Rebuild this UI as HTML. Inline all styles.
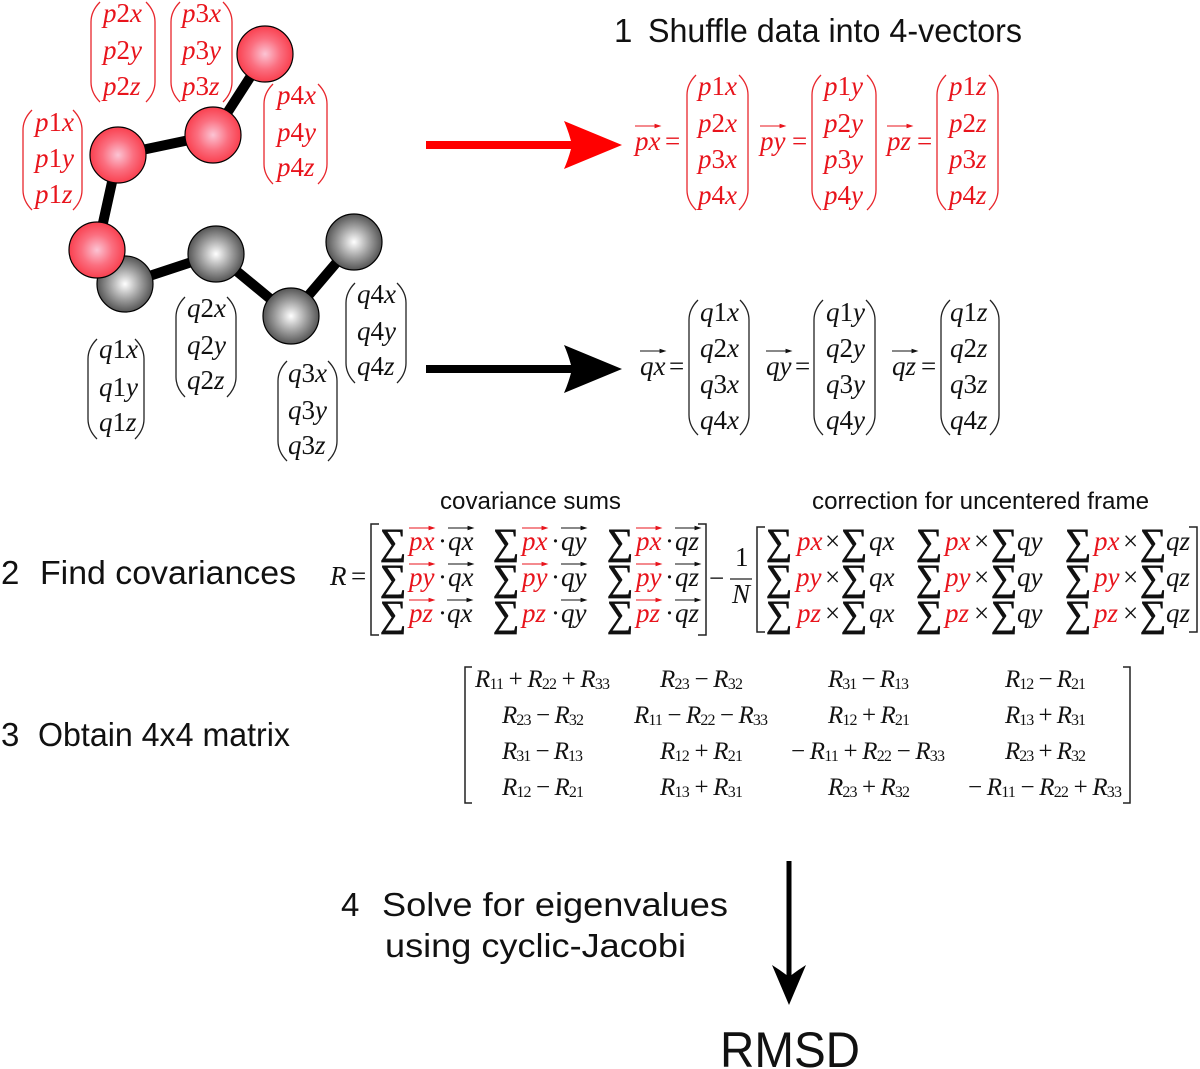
<!DOCTYPE html>
<html><head><meta charset="utf-8"><title>RMSD diagram</title>
<style>
html,body{margin:0;padding:0;background:#fff}
svg{display:block}
text{font-family:"Liberation Serif",serif;font-size:27px;font-style:italic;fill:#111}
.r text,text.r,tspan.r{fill:#e8141c}
.n{font-style:normal}
.sans{font-family:"Liberation Sans",sans-serif;font-style:normal;font-size:33px;fill:#111}
.small{font-size:24px}
.S{font-size:37px;font-style:normal;stroke:#111;stroke-width:.7px}
.o{font-style:normal}
.m text{font-size:25px}
.s{font-style:normal;font-size:16px;baseline-shift:-2px}
.par{fill:none;stroke-width:1.3}
</style></head><body>
<svg width="1200" height="1069" viewBox="0 0 1200 1069" xmlns="http://www.w3.org/2000/svg">
<defs>
<radialGradient id="gr" cx=".5" cy=".5" r=".5"><stop offset="0" stop-color="#fbc4d4"/><stop offset=".55" stop-color="#fb6f80"/><stop offset="1" stop-color="#f9404f"/></radialGradient>
<radialGradient id="gg" cx=".5" cy=".5" r=".5"><stop offset="0" stop-color="#fff"/><stop offset=".55" stop-color="#a0a0a0"/><stop offset="1" stop-color="#555"/></radialGradient>
<path id="lp" d="M9 0C3 6 0 12 0 20V80C0 88 3 94 9 100"/>
<path id="rp" d="M0 0C6 6 9 12 9 20V80C9 88 6 94 0 100"/>
<path id="lt" d="M9 0C3 6 0 12 0 20V115C0 123 3 129 9 135"/>
<path id="rt" d="M0 0C6 6 9 12 9 20V115C9 123 6 129 0 135"/>
<path id="a" d="M0 0H20V-1.600L25 0 20 1.600V0Z" stroke-width=".9"/>
</defs>

<!-- molecule bonds -->
<path d="M265 54L213 135L118 155L97 250M125 284L216 254L291 316L354 242" fill="none" stroke="#000" stroke-width="10"/>
<g stroke="#000" stroke-width="1.2">
<circle cx="354" cy="242" r="28" fill="url(#gg)"/>
<circle cx="291" cy="316" r="28" fill="url(#gg)"/>
<circle cx="216" cy="254" r="28" fill="url(#gg)"/>
<circle cx="125" cy="284" r="28" fill="url(#gg)"/>
<circle cx="97" cy="250" r="28" fill="url(#gr)"/>
<circle cx="118" cy="155" r="28" fill="url(#gr)"/>
<circle cx="213" cy="135" r="28" fill="url(#gr)"/>
<circle cx="265" cy="54" r="28" fill="url(#gr)"/>
</g>

<!-- molecule labels red -->
<g class="par" stroke="#e8262c">
<use href="#lp" x="91" y="2"/><use href="#rp" x="146" y="2"/>
<use href="#lp" x="171" y="2"/><use href="#rp" x="223" y="2"/>
<use href="#lp" x="264" y="84"/><use href="#rp" x="318" y="84"/>
<use href="#lp" x="23" y="110"/><use href="#rp" x="73" y="110"/>
</g>
<g class="par" stroke="#222">
<use href="#lp" x="88" y="339"/><use href="#rp" x="135" y="339"/>
<use href="#lp" x="176" y="297"/><use href="#rp" x="227" y="297"/>
<use href="#lp" x="278" y="361"/><use href="#rp" x="328" y="361"/>
<use href="#lp" x="346" y="283"/><use href="#rp" x="397" y="283"/>
</g>
<g class="r">
<text x="103" y="22">p<tspan class="n">2</tspan>x</text><text x="103" y="59">p<tspan class="n">2</tspan>y</text><text x="103" y="95">p<tspan class="n">2</tspan>z</text>
<text x="182" y="22">p<tspan class="n">3</tspan>x</text><text x="182" y="59">p<tspan class="n">3</tspan>y</text><text x="182" y="95">p<tspan class="n">3</tspan>z</text>
<text x="277" y="104">p<tspan class="n">4</tspan>x</text><text x="277" y="141">p<tspan class="n">4</tspan>y</text><text x="277" y="176">p<tspan class="n">4</tspan>z</text>
<text x="35" y="131">p<tspan class="n">1</tspan>x</text><text x="35" y="167">p<tspan class="n">1</tspan>y</text><text x="35" y="203">p<tspan class="n">1</tspan>z</text>
</g>
<g>
<text x="99" y="358">q<tspan class="n">1</tspan>x</text><text x="99" y="396">q<tspan class="n">1</tspan>y</text><text x="99" y="431">q<tspan class="n">1</tspan>z</text>
<text x="187" y="317">q<tspan class="n">2</tspan>x</text><text x="187" y="354">q<tspan class="n">2</tspan>y</text><text x="187" y="389">q<tspan class="n">2</tspan>z</text>
<text x="288" y="382">q<tspan class="n">3</tspan>x</text><text x="288" y="419">q<tspan class="n">3</tspan>y</text><text x="288" y="454">q<tspan class="n">3</tspan>z</text>
<text x="357" y="303">q<tspan class="n">4</tspan>x</text><text x="357" y="340">q<tspan class="n">4</tspan>y</text><text x="357" y="375">q<tspan class="n">4</tspan>z</text>
</g>

<!-- big arrows -->
<path d="M426 141H571Q568 130 564 121L622 145L564 169Q568 160 571 149H426Z" fill="#ff0000"/>
<path d="M426 365H571Q568 354 564 345L622 369L564 393Q568 384 571 373H426Z" fill="#000"/>
<path d="M786.500 861H791.500V975Q798 970 806 965L789 1005L772 965Q780 970 786.500 975Z" fill="#000"/>

<!-- headings -->
<text class="sans" x="614" y="42">1</text>
<text class="sans" x="648" y="42" textLength="374" lengthAdjust="spacingAndGlyphs">Shuffle data into 4-vectors</text>
<text class="sans" x="1" y="584">2</text>
<text class="sans" x="40" y="584" textLength="256" lengthAdjust="spacingAndGlyphs">Find covariances</text>
<text class="sans" x="1" y="746">3</text>
<text class="sans" x="38" y="746" textLength="252" lengthAdjust="spacingAndGlyphs">Obtain 4x4 matrix</text>
<text class="sans" x="341" y="916">4</text>
<text class="sans" x="382" y="916" textLength="346" lengthAdjust="spacingAndGlyphs">Solve for eigenvalues</text>
<text class="sans" x="385" y="957" textLength="301" lengthAdjust="spacingAndGlyphs">using cyclic-Jacobi</text>
<text class="sans" x="720" y="1067" style="font-size:50px" textLength="140" lengthAdjust="spacingAndGlyphs">RMSD</text>
<text class="sans small" x="440" y="509" textLength="181" lengthAdjust="spacingAndGlyphs">covariance sums</text>
<text class="sans small" x="812" y="509" textLength="337" lengthAdjust="spacingAndGlyphs">correction for uncentered frame</text>

<!-- p vectors -->
<g class="par" stroke="#e8262c">
<use href="#lt" x="687" y="75"/><use href="#rt" x="739" y="75"/>
<use href="#lt" x="812" y="75"/><use href="#rt" x="867" y="75"/>
<use href="#lt" x="937" y="75"/><use href="#rt" x="989" y="75"/>
</g>
<g fill="#e8141c" stroke="#e8141c"><use href="#a" x="635" y="126"/><use href="#a" x="760" y="126"/><use href="#a" x="887" y="126"/></g>
<g class="r">
<text x="635" y="150">px</text><text class="o" x="665" y="150">=</text>
<text x="760" y="150">py</text><text class="o" x="792" y="150">=</text>
<text x="887" y="150">pz</text><text class="o" x="917" y="150">=</text>
<text x="698" y="95">p<tspan class="n">1</tspan>x</text><text x="698" y="132">p<tspan class="n">2</tspan>x</text><text x="698" y="168">p<tspan class="n">3</tspan>x</text><text x="698" y="204">p<tspan class="n">4</tspan>x</text>
<text x="824" y="95">p<tspan class="n">1</tspan>y</text><text x="824" y="132">p<tspan class="n">2</tspan>y</text><text x="824" y="168">p<tspan class="n">3</tspan>y</text><text x="824" y="204">p<tspan class="n">4</tspan>y</text>
<text x="949" y="95">p<tspan class="n">1</tspan>z</text><text x="949" y="132">p<tspan class="n">2</tspan>z</text><text x="949" y="168">p<tspan class="n">3</tspan>z</text><text x="949" y="204">p<tspan class="n">4</tspan>z</text>
</g>

<!-- q vectors -->
<g class="par" stroke="#222">
<use href="#lt" x="689" y="300"/><use href="#rt" x="740" y="300"/>
<use href="#lt" x="814" y="300"/><use href="#rt" x="866" y="300"/>
<use href="#lt" x="941" y="300"/><use href="#rt" x="990" y="300"/>
</g>
<g fill="#111" stroke="#111"><use href="#a" x="640" y="351"/><use href="#a" x="766" y="351"/><use href="#a" x="892" y="351"/></g>
<text x="640" y="375">qx</text><text class="o" x="669" y="375">=</text>
<text x="766" y="375">qy</text><text class="o" x="795" y="375">=</text>
<text x="892" y="375">qz</text><text class="o" x="921" y="375">=</text>
<text x="700" y="321">q<tspan class="n">1</tspan>x</text><text x="700" y="357">q<tspan class="n">2</tspan>x</text><text x="700" y="393">q<tspan class="n">3</tspan>x</text><text x="700" y="429">q<tspan class="n">4</tspan>x</text>
<text x="826" y="321">q<tspan class="n">1</tspan>y</text><text x="826" y="357">q<tspan class="n">2</tspan>y</text><text x="826" y="393">q<tspan class="n">3</tspan>y</text><text x="826" y="429">q<tspan class="n">4</tspan>y</text>
<text x="950" y="321">q<tspan class="n">1</tspan>z</text><text x="950" y="357">q<tspan class="n">2</tspan>z</text><text x="950" y="393">q<tspan class="n">3</tspan>z</text><text x="950" y="429">q<tspan class="n">4</tspan>z</text>

<!-- covariance -->
<text x="330" y="585">R</text><text class="o" x="351" y="585">=</text>
<path d="M379 524H371V635H379M698 524H706V635H698M765 527H757V632H765M1189 527H1197V632H1189" fill="none" stroke="#222" stroke-width="1.5"/>
<text class="S" x="380" y="554">∑</text><text class="S" x="493" y="554">∑</text><text class="S" x="607" y="554">∑</text>
<text class="S" x="380" y="590">∑</text><text class="S" x="493" y="590">∑</text><text class="S" x="607" y="590">∑</text>
<text class="S" x="380" y="626">∑</text><text class="S" x="493" y="626">∑</text><text class="S" x="607" y="626">∑</text>
<text class="S" x="766" y="554">∑</text><text class="S" x="841" y="554">∑</text><text class="S" x="916" y="554">∑</text><text class="S" x="991" y="554">∑</text><text class="S" x="1065" y="554">∑</text><text class="S" x="1140" y="554">∑</text>
<text class="S" x="766" y="590">∑</text><text class="S" x="841" y="590">∑</text><text class="S" x="916" y="590">∑</text><text class="S" x="991" y="590">∑</text><text class="S" x="1065" y="590">∑</text><text class="S" x="1140" y="590">∑</text>
<text class="S" x="766" y="626">∑</text><text class="S" x="841" y="626">∑</text><text class="S" x="916" y="626">∑</text><text class="S" x="991" y="626">∑</text><text class="S" x="1065" y="626">∑</text><text class="S" x="1140" y="626">∑</text>
<g fill="#e8141c" stroke="#e8141c">
<use href="#a" x="409" y="528"/><use href="#a" x="522" y="528"/><use href="#a" x="636" y="528"/>
<use href="#a" x="409" y="564"/><use href="#a" x="522" y="564"/><use href="#a" x="636" y="564"/>
<use href="#a" x="409" y="600"/><use href="#a" x="636" y="600"/>
</g>
<g fill="#111" stroke="#111">
<use href="#a" x="448" y="528"/><use href="#a" x="561" y="528"/><use href="#a" x="675" y="528"/>
<use href="#a" x="448" y="564"/><use href="#a" x="561" y="564"/><use href="#a" x="675" y="564"/>
<use href="#a" x="447" y="600"/><use href="#a" x="561" y="600"/><use href="#a" x="675" y="600"/>
</g>
<g class="r">
<text x="409" y="550">px</text><text x="522" y="550">px</text><text x="636" y="550">px</text>
<text x="409" y="586">py</text><text x="522" y="586">py</text><text x="636" y="586">py</text>
<text x="409" y="622">pz</text><text x="522" y="622">pz</text><text x="636" y="622">pz</text>
<text x="797" y="550">px</text><text x="945" y="550">px</text><text x="1094" y="550">px</text>
<text x="796" y="586">py</text><text x="945" y="586">py</text><text x="1094" y="586">py</text>
<text x="797" y="622">pz</text><text x="945" y="622">pz</text><text x="1094" y="622">pz</text>
</g>
<text class="o" x="438" y="550">·</text><text class="o" x="551" y="550">·</text><text class="o" x="665" y="550">·</text>
<text class="o" x="438" y="586">·</text><text class="o" x="551" y="586">·</text><text class="o" x="665" y="586">·</text>
<text class="o" x="438" y="622">·</text><text class="o" x="551" y="622">·</text><text class="o" x="665" y="622">·</text>
<text x="448" y="550">qx</text><text x="561" y="550">qy</text><text x="675" y="550">qz</text>
<text x="448" y="586">qx</text><text x="561" y="586">qy</text><text x="675" y="586">qz</text>
<text x="447" y="622">qx</text><text x="561" y="622">qy</text><text x="675" y="622">qz</text>
<text class="o" x="709" y="587">−</text>
<text class="n" x="735" y="566">1</text>
<path d="M730 579H752" stroke="#222" stroke-width="1.3"/>
<text x="732" y="603">N</text>
<text class="o" x="825" y="550">×</text><text class="o" x="974" y="550">×</text><text class="o" x="1123" y="550">×</text>
<text class="o" x="825" y="586">×</text><text class="o" x="974" y="586">×</text><text class="o" x="1123" y="586">×</text>
<text class="o" x="825" y="622">×</text><text class="o" x="974" y="622">×</text><text class="o" x="1123" y="622">×</text>
<text x="869" y="550">qx</text><text x="1017" y="550">qy</text><text x="1166" y="550">qz</text>
<text x="869" y="586">qx</text><text x="1017" y="586">qy</text><text x="1166" y="586">qz</text>
<text x="869" y="622">qx</text><text x="1017" y="622">qy</text><text x="1166" y="622">qz</text>

<!-- 4x4 matrix -->
<path d="M472 667H465V803H472M1123 667H1130V803H1123" fill="none" stroke="#222" stroke-width="1.5"/>
<g class="m">
<text x="475" y="687" textLength="135">R<tspan class="s">11</tspan><tspan class="o"> + </tspan>R<tspan class="s">22</tspan><tspan class="o"> + </tspan>R<tspan class="s">33</tspan></text>
<text x="660" y="687" textLength="83">R<tspan class="s">23</tspan><tspan class="o"> − </tspan>R<tspan class="s">32</tspan></text>
<text x="828" y="687" textLength="81">R<tspan class="s">31</tspan><tspan class="o"> − </tspan>R<tspan class="s">13</tspan></text>
<text x="1005" y="687" textLength="81">R<tspan class="s">12</tspan><tspan class="o"> − </tspan>R<tspan class="s">21</tspan></text>
<text x="502" y="723" textLength="82">R<tspan class="s">23</tspan><tspan class="o"> − </tspan>R<tspan class="s">32</tspan></text>
<text x="634" y="723" textLength="134">R<tspan class="s">11</tspan><tspan class="o"> − </tspan>R<tspan class="s">22</tspan><tspan class="o"> − </tspan>R<tspan class="s">33</tspan></text>
<text x="828" y="723" textLength="82">R<tspan class="s">12</tspan><tspan class="o"> + </tspan>R<tspan class="s">21</tspan></text>
<text x="1005" y="723" textLength="81">R<tspan class="s">13</tspan><tspan class="o"> + </tspan>R<tspan class="s">31</tspan></text>
<text x="502" y="759" textLength="81">R<tspan class="s">31</tspan><tspan class="o"> − </tspan>R<tspan class="s">13</tspan></text>
<text x="660" y="759" textLength="83">R<tspan class="s">12</tspan><tspan class="o"> + </tspan>R<tspan class="s">21</tspan></text>
<text x="791" y="759" textLength="154"><tspan class="o">− </tspan>R<tspan class="s">11</tspan><tspan class="o"> + </tspan>R<tspan class="s">22</tspan><tspan class="o"> − </tspan>R<tspan class="s">33</tspan></text>
<text x="1005" y="759" textLength="81">R<tspan class="s">23</tspan><tspan class="o"> + </tspan>R<tspan class="s">32</tspan></text>
<text x="502" y="795" textLength="82">R<tspan class="s">12</tspan><tspan class="o"> − </tspan>R<tspan class="s">21</tspan></text>
<text x="660" y="795" textLength="83">R<tspan class="s">13</tspan><tspan class="o"> + </tspan>R<tspan class="s">31</tspan></text>
<text x="828" y="795" textLength="82">R<tspan class="s">23</tspan><tspan class="o"> + </tspan>R<tspan class="s">32</tspan></text>
<text x="968" y="795" textLength="154"><tspan class="o">− </tspan>R<tspan class="s">11</tspan><tspan class="o"> − </tspan>R<tspan class="s">22</tspan><tspan class="o"> + </tspan>R<tspan class="s">33</tspan></text>
</g>
</svg>
</body></html>
